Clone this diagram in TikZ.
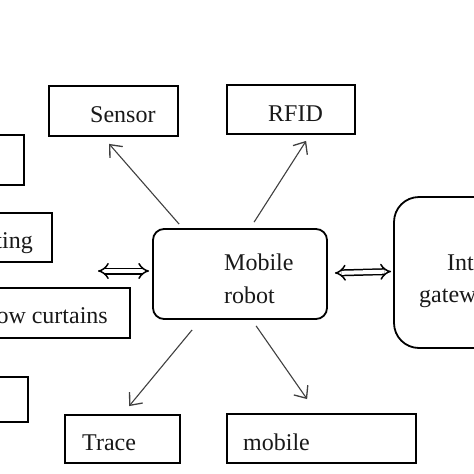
\documentclass[tikz,border=0pt]{standalone}
\usepackage{fontspec}
\setmainfont{Liberation Serif}
\usetikzlibrary{arrows.meta,calc}
\begin{document}
\begin{tikzpicture}[x=1pt,y=-1pt,
  box/.style={draw, line width=1.8pt, inner sep=0pt, minimum width=#1},
  box/.default=100pt,
  rbox/.style={draw, line width=1.8pt, inner sep=0pt, rounded corners=#1},
  lbl/.style={font=\fontsize{24}{33}\selectfont, inner sep=0pt, text=black!90},
  arr/.style={line width=1.1pt, draw=black!75, -{Straight Barb[length=10pt,width=17pt,line width=1.3pt]}},
  dbl/.style={double, double distance=4pt, line width=1.5pt, {Implies[scale=1.2]}-{Implies[scale=1.2]}}]
\useasboundingbox (0,0) rectangle (474,474);
\fill[white] (0,0) rectangle (474,474);
\clip (0,0) rectangle (474,474);
% boxes
\node[box=129pt, minimum height=50pt] (sensor) at (113.5,111) {};
\node[box=128pt, minimum height=49pt] (rfid) at (291,109.5) {};
\node[box=104pt, minimum height=50pt] (tl) at (-28,160) {};
\node[box=122pt, minimum height=49pt] (light) at (-9,237.5) {};
\node[box=200pt, minimum height=50pt] (curt) at (30,313) {};
\node[box=108pt, minimum height=45pt] (bl) at (-26,399.5) {};
\node[box=115pt, minimum height=48pt] (trace) at (122.5,439) {};
\node[box=189pt, minimum height=49pt] (mob) at (321.5,438.5) {};
\node[rbox=11pt, minimum width=174pt, minimum height=90pt] (robot) at (240,274) {};
\node[rbox=25pt, minimum width=176pt, minimum height=151pt] (gate) at (482,272.5) {};
% labels
\node[lbl, anchor=base west] (sensorT) at (90,122) {Sensor};
\node[lbl, anchor=base west] (rfidT) at (268,121) {RFID};
\node[lbl, anchor=base east] (lightT) at (33,248) {Lighting};
\node[lbl, anchor=base east] (curtT) at (108,323) {Window curtains};
\node[lbl, anchor=base west] (traceT) at (82,450) {Trace};
\node[lbl, anchor=base west] (mobT) at (243,450) {mobile};
\node[lbl, anchor=base west] (robotT1) at (224,270) {Mobile};
\node[lbl, anchor=base west] (robotT2) at (224,303) {robot};
\node[lbl, anchor=base west] (gateT1) at (447,270) {Intelligent};
\node[lbl, anchor=base west] (gateT2) at (419,302) {gateway};
% arrows
\draw[arr] ($(robot.north west)+(27,-4)$) -- ($(sensor.south west)+(61,7)$);
\draw[arr] ($(robot.north west)+(102,-6)$) -- ($(rfid.south west)+(80,6)$);
\draw[arr] ($(robot.south west)+(40,10)$) -- ($(trace.north west)+(65,-8)$);
\draw[arr] ($(robot.south west)+(104,6)$) -- ($(mob.north west)+(81,-14)$);
% double arrows
\coordinate (lft) at (98,271);
\draw[dbl] (lft) -- ($(robot.west |- lft)+(-3,0)$);
\draw[dbl] ($(robot.east)+(7,-1)$) -- ($(gate.west)+(-2,-1)$);
\end{tikzpicture}
\end{document}
